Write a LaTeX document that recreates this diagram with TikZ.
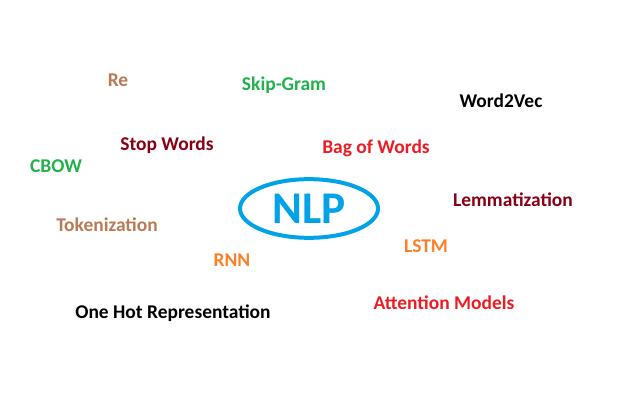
\documentclass[tikz,border=0pt]{standalone}
\usepackage{fontspec}
\setmainfont{Carlito}
\usetikzlibrary{shapes.geometric}
\definecolor{pgreen}{HTML}{22B14C}
\definecolor{pred}{HTML}{ED1C24}
\definecolor{pdark}{HTML}{880015}
\definecolor{porange}{HTML}{FF7F27}
\definecolor{pbrown}{HTML}{B97A57}
\definecolor{pblue}{HTML}{00A2E8}
\begin{document}
\begin{tikzpicture}[x=0.75pt,y=-0.75pt,
  term/.style={font=\fontsize{14.6pt}{16pt}\selectfont\bfseries, inner sep=0pt, anchor=center},
  hub/.style={ellipse, draw=pblue, text=pblue, line width=3pt, minimum width=103.5pt, minimum height=44pt, inner sep=0pt,
    font=\fontsize{34pt}{36pt}\selectfont\bfseries}]
\useasboundingbox[fill=white] (0,0) rectangle (641,402);
\node[hub] (nlp) at (309,208.5) {NLP};
\node[term, text=pbrown] (re) at (118,80) {Re};
\node[term, text=pgreen] (skip) at (284,85) {Skip-Gram};
\node[term, text=black] (w2v) at (501,101) {Word2Vec};
\node[term, text=pdark] (stop) at (167,145) {Stop Words};
\node[term, text=pred] (bow) at (376,148) {Bag of Words};
\node[term, text=pgreen] (cbow) at (56,166) {CBOW};
\node[term, text=pdark] (lem) at (513,200) {Lemmatization};
\node[term, text=pbrown] (tok) at (107,225) {Tokenization};
\node[term, text=porange] (lstm) at (426,246) {LSTM};
\node[term, text=porange] (rnn) at (232,260) {RNN};
\node[term, text=black] (ohr) at (173,313) {One Hot Representation};
\node[term, text=pred] (att) at (444,303) {Attention Models};
\end{tikzpicture}
\end{document}
